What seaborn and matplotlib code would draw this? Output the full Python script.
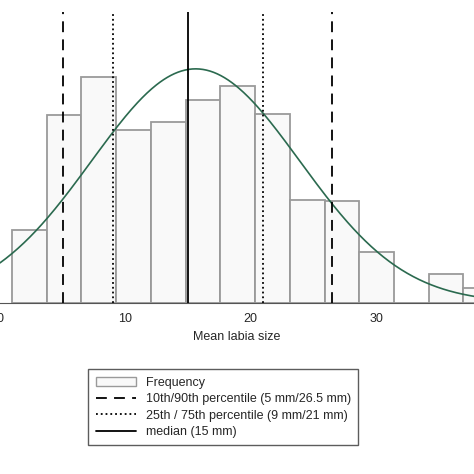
import numpy as np
import pandas as pd
import matplotlib
matplotlib.use("Agg")
import matplotlib.pyplot as plt
import seaborn as sns
from matplotlib.patches import Patch
from matplotlib.lines import Line2D

sns.set_style("white")
plt.rcParams['font.family'] = ['Liberation Sans', 'DejaVu Sans']

bin_left = 0.95
bin_width = 2.77
heights = [73, 188, 226, 173, 181, 203, 217, 189, 103, 102, 51, 0, 29, 15]
fit_mean = 15.6
fit_sd = 8.3
fit_peak = 234
p10, p90 = 5, 26.5
p25, p75 = 9, 21
median = 15

edges = bin_left + bin_width * np.arange(len(heights) + 1)
centers = (edges[:-1] + edges[1:]) / 2
df = pd.DataFrame({"c": centers, "w": heights})

fig = plt.figure(figsize=(4.74, 4.74), dpi=100)
ax = fig.add_axes([0, 0.361, 1, 0.614])
sns.histplot(data=df, x="c", weights="w", bins=edges.tolist(), ax=ax, color="#f9f9f9",
             edgecolor="#9a9a9a", linewidth=1.3, alpha=1)
xs = np.linspace(0, 38, 400)
ax.plot(xs, fit_peak * np.exp(-(xs - fit_mean) ** 2 / (2 * fit_sd ** 2)), color="#2b6a4f", lw=1.2)
for v in (p10, p90):
    ax.axvline(v, color="black", ls=(0, (6, 4)), lw=1.3)
for v in (p25, p75):
    ax.axvline(v, color="black", ls=":", lw=1.3)
ax.axvline(median, color="black", lw=1.3)
ax.set_xlim(0.16, 37.8)
ax.set_ylim(0, 291)
ax.set_yticks([])
ax.set_ylabel("")
ax.set_xticks([0, 10, 20, 30])
ax.set_xticklabels(["0", "10", "20", "30"], fontsize=9)
ax.tick_params(axis="x", length=4, color="#555")
ax.set_xlabel("Mean labia size", fontsize=9)
for s in ("top", "right", "left"):
    ax.spines[s].set_visible(False)
ax.spines["bottom"].set_color("#555")

handles = [Patch(facecolor="#f9f9f9", edgecolor="#9a9a9a"),
           Line2D([], [], color="black", ls=(0, (6, 4)), lw=1.3),
           Line2D([], [], color="black", ls=":", lw=1.3),
           Line2D([], [], color="black", lw=1.3)]
labels = ["Frequency", "10th/90th percentile (5 mm/26.5 mm)",
          "25th / 75th percentile (9 mm/21 mm)", "median (15 mm)"]
fig.legend(handles, labels, loc="upper left", bbox_to_anchor=(0.173, 0.234),
           fontsize=9, frameon=True, fancybox=False, edgecolor="#333",
           handlelength=3.2, borderpad=0.6, labelspacing=0.35)
fig.savefig("out.png", dpi=100)
